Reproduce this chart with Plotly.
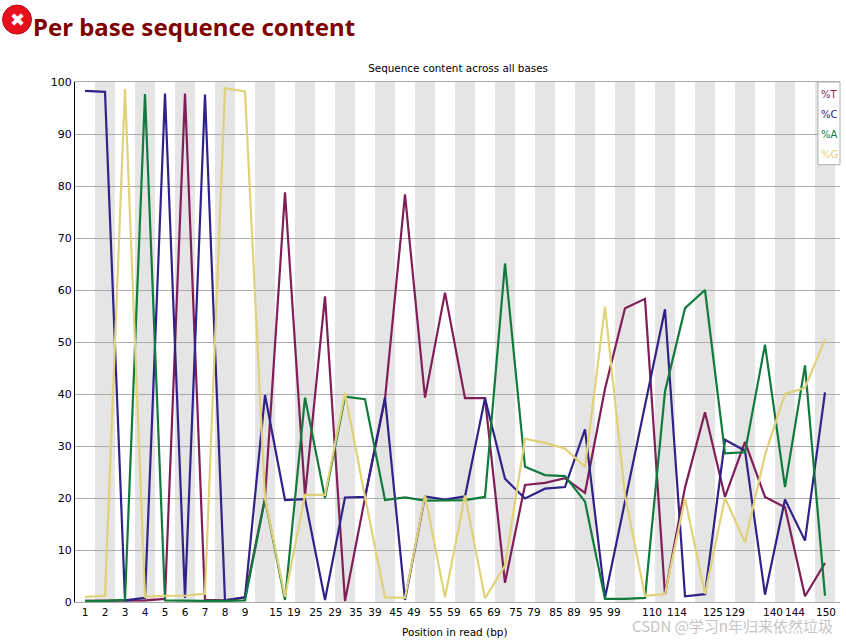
"""Per base sequence content chart (FastQC style) rebuilt with Plotly."""

import plotly.graph_objects as go

# one entry per bin along the read, bins are numbered from 0
pct_t = [0.2, 0.2, 0.2, 0.3, 0.6, 97.8, 0.4, 0.3, 0.9, 20.0, 78.8, 20.5, 58.8, 0.2, 20.0, 39.0, 78.4, 39.3, 59.5,
         39.2, 39.2, 3.7, 22.5, 22.9, 23.8, 21.0, 41.0, 56.5, 58.3, 1.4, 22.0, 36.5, 20.2, 30.8, 20.2, 18.2, 1.1, 7.5]
pct_c = [98.3, 98.1, 0.3, 0.8, 97.8, 0.8, 97.6, 0.3, 0.9, 39.8, 19.6, 19.8, 0.4, 20.1, 20.2, 39.3, 0.4, 20.3, 19.7,
         20.3, 39.2, 23.7, 19.9, 21.8, 22.1, 33.2, 0.8, 19.2, 37.8, 56.3, 1.1, 1.5, 31.2, 29.1, 1.4, 19.7, 11.8, 40.3]
pct_a = [0.2, 0.2, 0.4, 97.7, 0.3, 0.2, 0.2, 0.2, 0.3, 19.8, 0.4, 39.3, 20.0, 39.5, 39.0, 19.6, 20.1, 19.5, 19.6,
         19.6, 20.2, 65.1, 26.0, 24.4, 24.2, 19.3, 0.6, 0.6, 0.8, 40.5, 56.5, 60.0, 28.6, 28.8, 49.5, 22.1, 45.5, 1.2]
pct_g = [1.0, 1.2, 98.7, 1.0, 1.2, 1.2, 1.6, 98.8, 98.2, 20.0, 1.0, 20.6, 20.6, 40.2, 20.2, 0.9, 0.8, 20.5, 0.9,
         20.5, 0.7, 7.0, 31.4, 30.6, 29.5, 26.0, 56.8, 20.5, 1.2, 1.5, 19.9, 1.6, 20.0, 11.5, 28.3, 40.0, 41.2, 50.5]

series_names = ["%T", "%C", "%A", "%G"]
series_colors = ["#7f1f57", "#2f2288", "#127a3c", "#e0d27a"]

tick_labels = ["1", "2", "3", "4", "5", "6", "7", "8", "9", "15", "19", "25", "29", "35", "39", "45", "49", "55",
               "59", "65", "69", "75", "79", "85", "89", "95", "99", "110", "114", "125", "129", "140", "144", "150"]
# the grouped labels do not sit exactly under their bins
tick_bins = [0, 1, 2, 3, 4, 5, 6, 7, 8, 9.55, 10.45, 11.55, 12.5, 13.55, 14.5, 15.55, 16.45, 17.55, 18.45, 19.55,
             20.45, 21.55, 22.45, 23.55, 24.45, 25.55, 26.45, 28.35, 29.6, 31.4, 32.5, 34.4, 35.5, 37.05]

bins = list(range(len(pct_t)))

fig = go.Figure()

for name, values, color in zip(series_names, [pct_t, pct_c, pct_a, pct_g], series_colors):
    fig.add_trace(go.Scatter(
        x=bins,
        y=values,
        mode="lines",
        name=name,
        showlegend=False,
        line=dict(width=2.2, color=color)
    ))

# alternating grey bands behind the lines
for b in bins[1::2]:
    fig.add_shape(type="rect", xref="x", yref="y", x0=b - 0.5, x1=b + 0.5, y0=0, y1=100,
                  fillcolor="#e5e5e5", line_width=0, layer="below")

# legend box, no line samples in the original so it is drawn by hand
fig.add_shape(type="rect", xref="paper", yref="paper", x0=0.9712, x1=1.0, y0=0.841, y1=1.0,
              fillcolor="white", line=dict(color="#b0b0b0", width=1), layer="above")
for i, (name, color) in enumerate(zip(series_names, series_colors)):
    fig.add_annotation(text=name, xref="paper", yref="paper", x=0.9725, y=0.9765 - i * 0.0385,
                       xanchor="left", yanchor="middle", showarrow=False,
                       font=dict(family="DejaVu Sans", size=10, color=color))

# failed-module icon next to the heading
fig.add_shape(type="circle", xref="paper", yref="paper", xsizemode="pixel", ysizemode="pixel",
              xanchor=-0.0758, yanchor=1.12, x0=-14.5, x1=14.5, y0=-14.5, y1=14.5,
              fillcolor="#e8101c", line=dict(color="#c00814", width=1), layer="above")
fig.add_annotation(text="✖", xref="paper", yref="paper", x=-0.0758, y=1.12, xanchor="center", yanchor="middle",
                   showarrow=False, font=dict(family="DejaVu Sans", size=18, color="white"))

fig.add_annotation(text="<b>Per base sequence content</b>", xref="paper", yref="paper",
                   x=-0.058, y=1.106, xanchor="left", yanchor="middle", showarrow=False,
                   font=dict(family="Noto Sans", size=24, color="#800000"))

# axis title as an annotation, a title standoff would shrink the plot area
fig.add_annotation(text="Position in read (bp)", xref="paper", yref="paper",
                   x=0.497, y=-0.0585, xanchor="center", yanchor="middle", showarrow=False,
                   font=dict(family="DejaVu Sans", size=10.5, color="black"))

fig.add_annotation(text="CSDN @学习n年归来依然垃圾", xref="paper", yref="paper",
                   x=0.993, y=-0.0445, xanchor="right", yanchor="middle", showarrow=False,
                   font=dict(family="Noto Sans CJK SC", size=15, color="#c4c4c4"))

fig.update_xaxes(
    range=[-0.5, 37.75],
    tickmode="array",
    tickvals=tick_bins,
    ticktext=tick_labels,
    tickangle=0,
    ticks="",
    showgrid=False,
    zeroline=False,
    showline=True,
    mirror=True,
    linecolor="#aaaaaa",
    tickfont=dict(family="DejaVu Sans", size=10.5, color="black")
)
fig.update_yaxes(
    range=[0, 100],
    dtick=10,
    ticks="",
    gridcolor="#aaaaaa",
    gridwidth=1,
    zeroline=False,
    showline=True,
    linecolor="black",
    tickfont=dict(family="DejaVu Sans", size=11, color="black")
)

fig.update_layout(
    width=846,
    height=641,
    margin=dict(l=75, r=6, t=82, b=39),
    paper_bgcolor="white",
    plot_bgcolor="white",
    title=dict(text="Sequence content across all bases", x=0.5415, xanchor="center", y=0.893, yanchor="middle",
               font=dict(family="DejaVu Sans", size=10.4, color="black"))
)

# the page's default body margin would push the fixed-size figure off the window
fig.write_html("out.html", post_script="document.body.style.margin = '0';", config={"displayModeBar": False})
